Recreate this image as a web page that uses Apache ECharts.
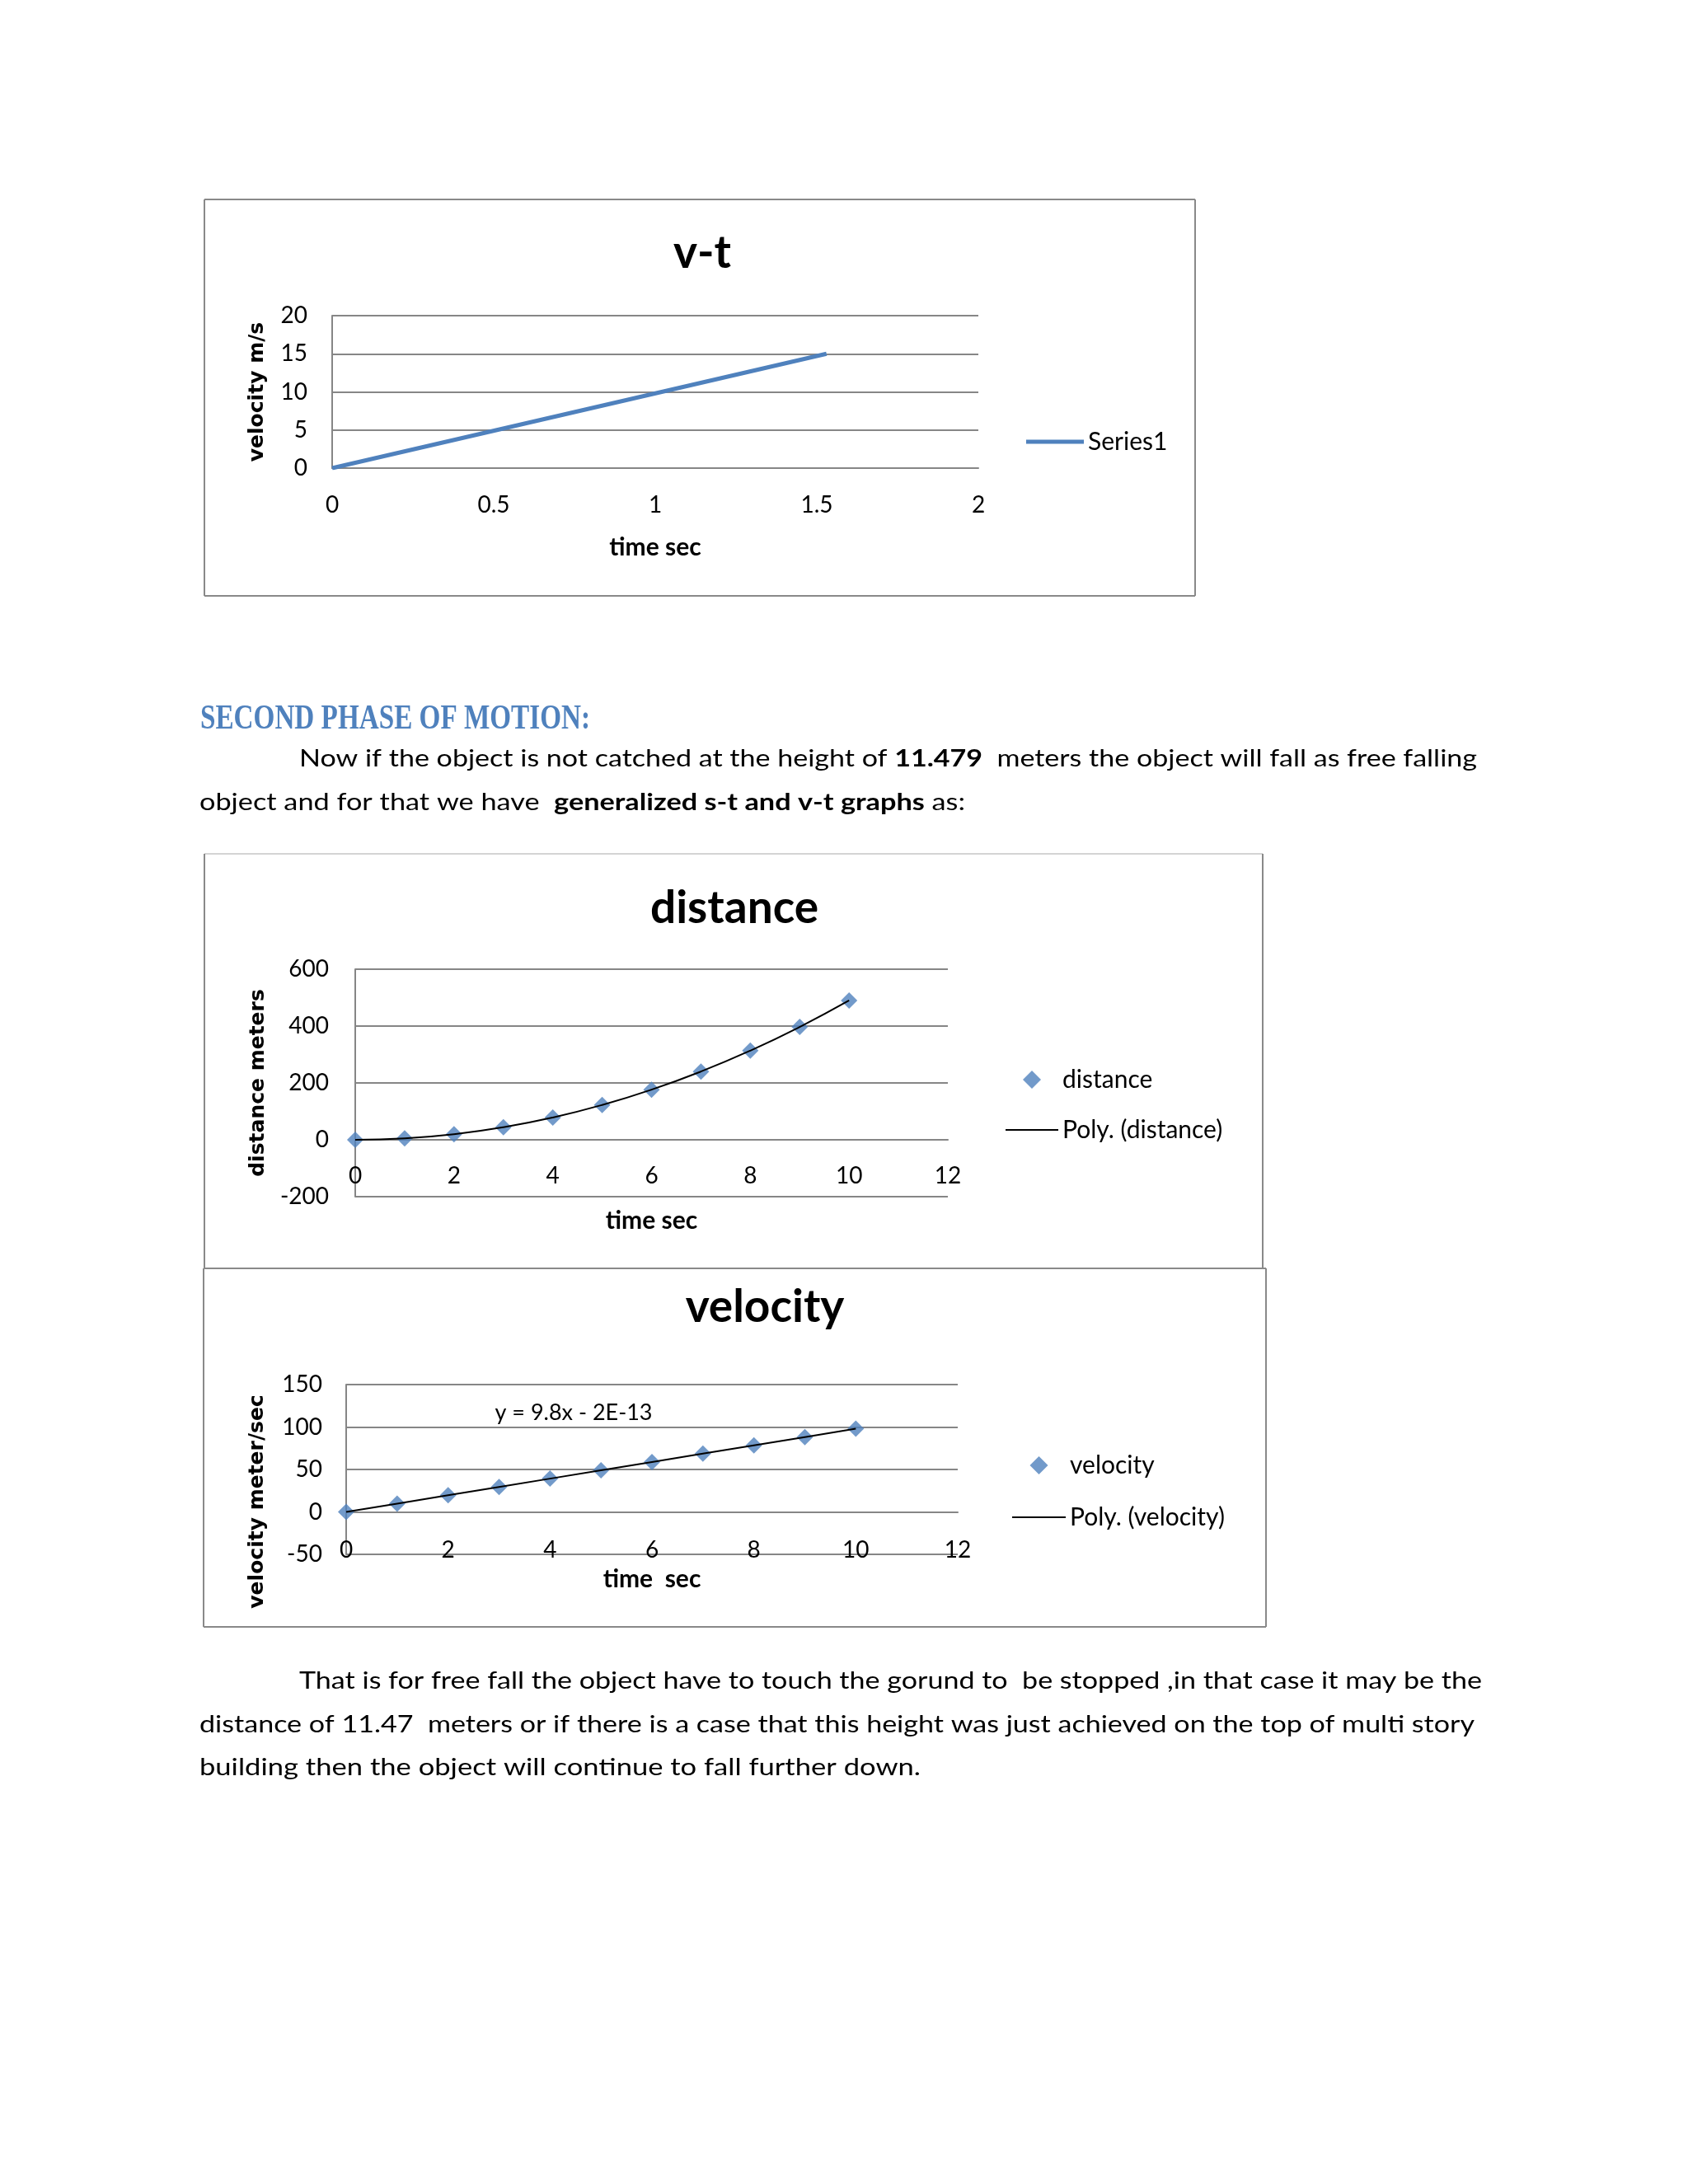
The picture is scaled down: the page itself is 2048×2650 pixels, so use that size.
<!DOCTYPE html>
<html><head><meta charset="utf-8">
<script src="https://cdn.jsdelivr.net/npm/echarts@6/dist/echarts.min.js"></script>
<style>html,body{margin:0;padding:0;background:#ffffff;}#c{width:2048px;height:2650px;}</style>
</head><body><div id="c"></div>
<script>
// ---------- data ----------
const vtTime = [0, 1.53];
const vtVelocity = [0, 15];
const vtXTicks = [0, 0.5, 1, 1.5, 2];
const vtYTicks = [0, 5, 10, 15, 20];

const distTime = [0, 1, 2, 3, 4, 5, 6, 7, 8, 9, 10];
const distValues = [0, 4.9, 19.6, 44.1, 78.4, 122.5, 176.4, 240.1, 313.6, 396.9, 490];
const distXTicks = [0, 2, 4, 6, 8, 10, 12];
const distYTicks = [-200, 0, 200, 400, 600];

const velTime = [0, 1, 2, 3, 4, 5, 6, 7, 8, 9, 10];
const velValues = [0, 9.8, 19.6, 29.4, 39.2, 49, 58.8, 68.6, 78.4, 88.2, 98];
const velXTicks = [0, 2, 4, 6, 8, 10, 12];
const velYTicks = [-50, 0, 50, 100, 150];

const titles = ['v-t', 'distance', 'velocity'];
const trendEquation = 'y = 9.8x - 2E-13';
const headingText = 'SECOND PHASE OF MOTION:';
const para1 = [
  [['Now if the object is not catched at the height of ', false], ['11.479', true], ['  meters the object will fall as free falling', false]],
  [['object and for that we have  ', false], ['generalized s-t and v-t graphs', true], [' as:', false]]
];
const para2 = [
  [['That is for free fall the object have to touch the gorund to  be stopped ,in that case it may be the', false]],
  [['distance of 11.47  meters or if there is a case that this height was just achieved on the top of multi story', false]],
  [['building then the object will continue to fall further down.', false]]
];

// ---------- helpers ----------
const BLUE = '#4F81BD';
const AX = '#868686';
const zip = (a, b) => a.map((v, i) => [v, b[i]]);
const mctx = document.createElement('canvas').getContext('2d');
function measure(text, font) { mctx.font = font; return mctx.measureText(text).width; }

const GRIDS = [
  { left: 403, top: 383, width: 784, height: 185 },
  { left: 431, top: 1176, width: 719, height: 276 },
  { left: 420, top: 1680, width: 742, height: 206 }
];

const LBL = { fontFamily: 'Lato, sans-serif', fontSize: 28, color: '#000' };
// x axis drawn where y = 0 (the offset comes from the y scale of the same grid)
function xAxis(grid, ticks, yTicks, name, margin, nameGap) {
  const yMin = yTicks[0], yMax = yTicks[yTicks.length - 1];
  const zeroOffset = -GRIDS[grid].height * (0 - yMin) / (yMax - yMin);
  return {
    type: 'value', gridIndex: grid, position: 'bottom', offset: zeroOffset,
    min: ticks[0], max: ticks[ticks.length - 1], interval: ticks[1] - ticks[0],
    name: name, nameLocation: 'middle', nameGap: nameGap,
    nameTextStyle: { fontFamily: 'Lato, sans-serif', fontWeight: 'bold', fontSize: 30, color: '#000' },
    axisLine: { show: true, onZero: false, lineStyle: { color: AX, width: 2 } },
    axisTick: { show: false }, splitLine: { show: false },
    axisLabel: Object.assign({ margin: margin }, LBL)
  };
}
function yAxis(grid, ticks, name, margin, nameGap, namePad) {
  return {
    type: 'value', gridIndex: grid, min: ticks[0], max: ticks[ticks.length - 1], interval: ticks[1] - ticks[0],
    name: name, nameLocation: 'middle', nameGap: nameGap, nameRotate: 90,
    nameTextStyle: { fontFamily: 'DejaVu Sans, sans-serif', fontWeight: 'bold', fontSize: 25, color: '#000', padding: namePad || 0 },
    axisLine: { show: true, onZero: false, lineStyle: { color: AX, width: 2 } },
    axisTick: { show: false },
    splitLine: { show: true, lineStyle: { color: AX, width: 2 } },
    axisLabel: Object.assign({ margin: margin }, LBL)
  };
}
const legendText = { fontFamily: 'Lato, sans-serif', fontSize: 30, color: '#000' };
const DIAMOND = 'path://M10,0 L20,10 L10,20 L0,10 Z';
const THICK_LINE = 'path://M0,0 L70,0 L70,5 L0,5 Z';
const THIN_LINE = 'path://M0,0 L64,0 L64,2 L0,2 Z';

function textLine(segments, x, baseline, targetW, size, family, color, boldAll) {
  let total = 0;
  segments.forEach(s => {
    const b = boldAll || s[1];
    total += measure(s[0], (b ? 'bold ' : '') + size + 'px ' + family);
  });
  const sc = targetW / total;
  const rich = {
    n: { fontSize: size, fontFamily: family, fontWeight: boldAll ? 'bold' : 'normal', fill: color },
    b: { fontSize: size, fontFamily: family, fontWeight: 'bold', fill: color }
  };
  const txt = segments.map(s => '{' + ((boldAll || s[1]) ? 'b' : 'n') + '|' + s[0] + '}').join('');
  return {
    type: 'text', x: x, y: baseline - size * 0.33, scaleX: sc, scaleY: 1, originX: 0, originY: 0,
    silent: true,
    style: { text: txt, rich: rich, fill: color, align: 'left', textAlign: 'left', verticalAlign: 'middle', textVerticalAlign: 'middle' }
  };
}
function centerText(text, cx, cy, font) {
  return { type: 'text', x: cx, y: cy, silent: true,
    style: { text: text, font: font, fill: '#000', align: 'center', textAlign: 'center', verticalAlign: 'middle', textVerticalAlign: 'middle' } };
}
function box(x, y, w, h, topColor) {
  const c = '#898989';
  return [
    { type: 'line', silent: true, shape: { x1: x, y1: y, x2: x + w, y2: y }, style: { stroke: topColor || c, lineWidth: 2 } },
    { type: 'line', silent: true, shape: { x1: x, y1: y + h, x2: x + w, y2: y + h }, style: { stroke: c, lineWidth: 2 } },
    { type: 'line', silent: true, shape: { x1: x, y1: y, x2: x, y2: y + h }, style: { stroke: c, lineWidth: 2 } },
    { type: 'line', silent: true, shape: { x1: x + w, y1: y, x2: x + w, y2: y + h }, style: { stroke: c, lineWidth: 2 } }
  ];
}

const BODY = 'Lato, sans-serif';
const graphics = [].concat(
  box(248, 242, 1202, 481),
  box(248, 1036, 1284, 503, '#d4d4d4'),
  box(247, 1539, 1289, 435),
  [
    centerText(titles[0], 852, 307, 'bold 55px Lato, sans-serif'),
    centerText(titles[1], 891, 1102, 'bold 55px Lato, sans-serif'),
    centerText(titles[2], 928, 1586, 'bold 55px Lato, sans-serif'),
    centerText(trendEquation, 696, 1714, '27px Lato, sans-serif'),
    textLine([[headingText, true]], 243, 887, 473, 42, 'Liberation Serif', BLUE, true),
    textLine(para1[0], 363, 930, 1429, 29, BODY, '#000'),
    textLine(para1[1], 242, 983, 929, 29, BODY, '#000'),
    textLine(para2[0], 363, 2049, 1435, 29, BODY, '#000'),
    textLine(para2[1], 242, 2102, 1547, 29, BODY, '#000'),
    textLine(para2[2], 242, 2154, 875, 29, BODY, '#000')
  ]
);

const chart = echarts.init(document.getElementById('c'), null, { renderer: 'canvas', width: 2048, height: 2650 });
chart.setOption({
  animation: false,
  backgroundColor: '#ffffff',
  grid: GRIDS.map(g => Object.assign({ outerBoundsMode: 'none' }, g)),
  xAxis: [
    xAxis(0, vtXTicks, vtYTicks, 'time sec', 31, 81),
    xAxis(1, distXTicks, distYTicks, 'time sec', 30, 83),
    xAxis(2, velXTicks, velYTicks, 'time  sec', 32, 67)
  ],
  yAxis: [
    yAxis(0, vtYTicks, 'velocity m/s', 30, 78),
    yAxis(1, distYTicks, 'distance meters', 32, 105),
    yAxis(2, velYTicks, 'velocity meter/sec', 29, 95, [0, 78, 0, 0])
  ],
  legend: [
    { data: [{ name: 'Series1', icon: THICK_LINE }],
      left: 1245, top: 521, orient: 'vertical', itemWidth: 70, itemHeight: 14, padding: 0, selectedMode: false, symbolKeepAspect: true, textStyle: legendText },
    { data: [{ name: 'distance', icon: DIAMOND }, { name: 'Poly. (distance)', icon: THIN_LINE }],
      left: 1220, top: 1295, orient: 'vertical', itemWidth: 64, itemHeight: 22, itemGap: 31, padding: 0, selectedMode: false, symbolKeepAspect: true, textStyle: legendText },
    { data: [{ name: 'velocity', icon: DIAMOND }, { name: 'Poly. (velocity)', icon: THIN_LINE }],
      left: 1228, top: 1763, orient: 'vertical', itemWidth: 65, itemHeight: 22, itemGap: 33, padding: 0, selectedMode: false, symbolKeepAspect: true, textStyle: legendText }
  ],
  series: [
    { type: 'line', name: 'Series1', xAxisIndex: 0, yAxisIndex: 0, data: zip(vtTime, vtVelocity), symbol: 'none', showSymbol: false,
      lineStyle: { color: BLUE, width: 5 }, itemStyle: { color: BLUE } },
    { type: 'scatter', name: 'distance', xAxisIndex: 1, yAxisIndex: 1, data: zip(distTime, distValues), symbol: 'diamond', symbolSize: 20,
      itemStyle: { color: BLUE } },
    { type: 'line', name: 'Poly. (distance)', xAxisIndex: 1, yAxisIndex: 1, data: zip(distTime, distValues), smooth: true, symbol: 'none', showSymbol: false,
      lineStyle: { color: '#000', width: 2 }, itemStyle: { color: '#000' }, z: 5 },
    { type: 'scatter', name: 'velocity', xAxisIndex: 2, yAxisIndex: 2, data: zip(velTime, velValues), symbol: 'diamond', symbolSize: 20,
      itemStyle: { color: BLUE } },
    { type: 'line', name: 'Poly. (velocity)', xAxisIndex: 2, yAxisIndex: 2, data: zip(velTime, velValues), symbol: 'none', showSymbol: false,
      lineStyle: { color: '#000', width: 2 }, itemStyle: { color: '#000' }, z: 5 }
  ],
  graphic: graphics
});
</script>
</body></html>
